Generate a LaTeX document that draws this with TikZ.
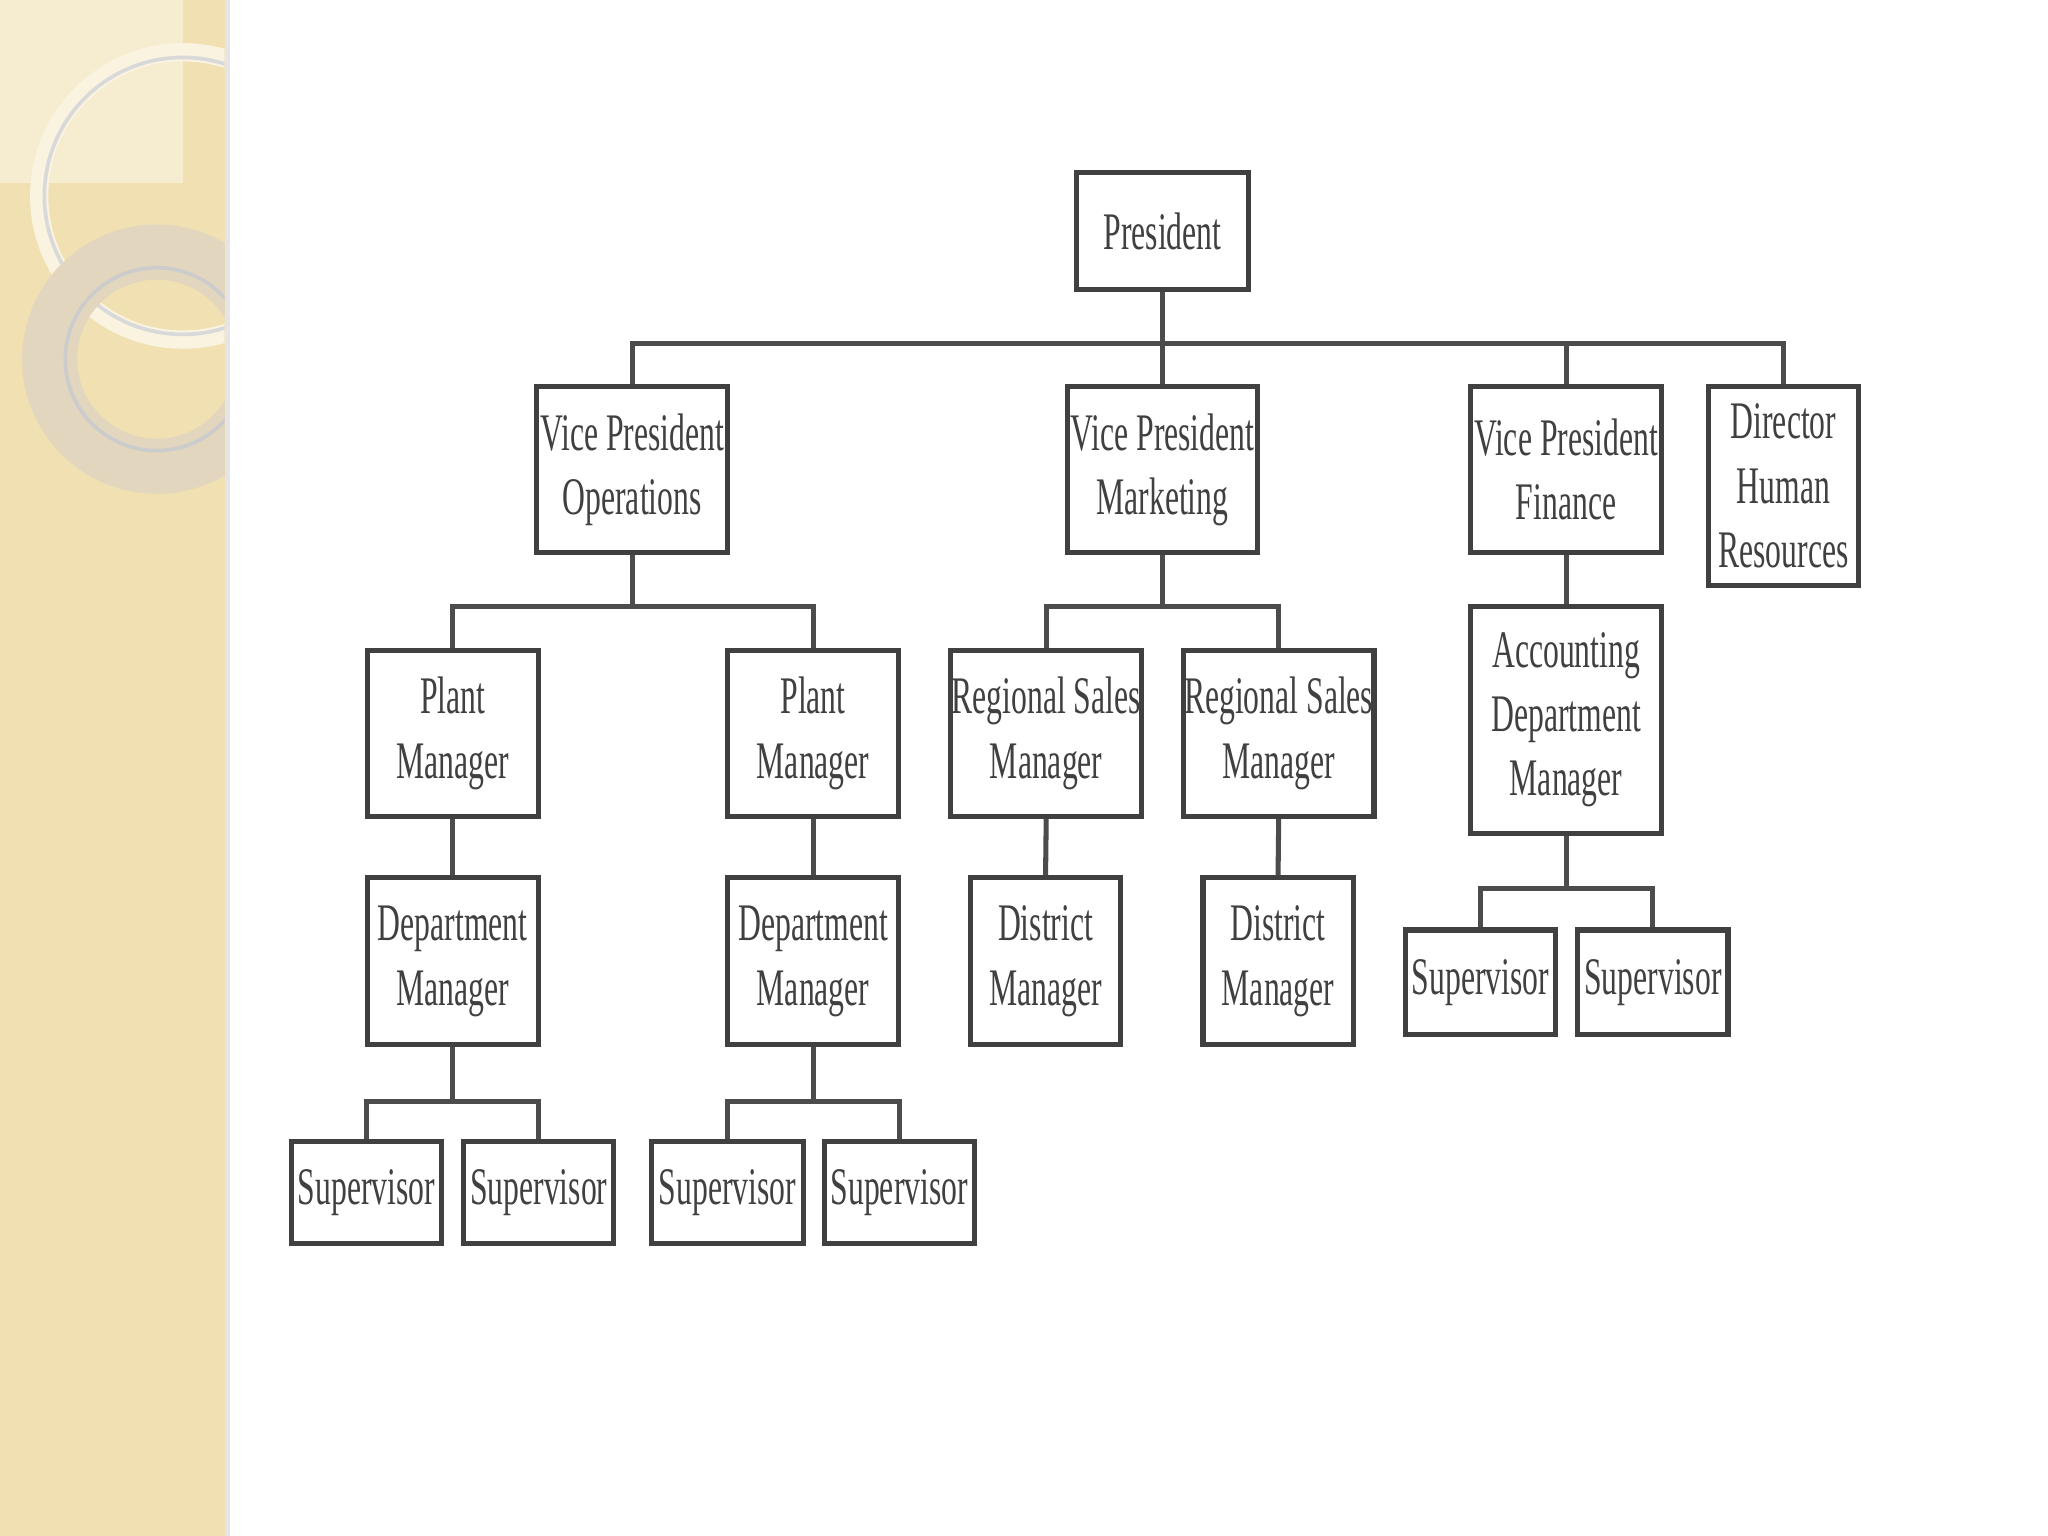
\documentclass[tikz,border=0pt]{standalone}
\usepackage{fontspec}
\newfontfamily\cf[FakeStretch=0.6]{Liberation Serif}
\definecolor{strip}{RGB}{240,224,178}
\definecolor{ring}{RGB}{226,214,190}
\begin{document}
\begin{tikzpicture}[x=1cm,y=1cm,
  box/.style={draw=black!75,line width=1.1pt,fill=white,inner sep=0pt,align=center,
    font=\cf\fontsize{11.5}{14}\selectfont,text=black!75},
  ln/.style={draw=black!70,line width=1.1pt}]
\useasboundingbox (0,0) rectangle (15.68,-11.76);
\fill[white] (0,0) rectangle (15.68,-11.76);
\fill[strip] (0,0) rectangle (1.72,-11.76);
\fill[black!10] (1.72,0) rectangle (1.76,-11.76);
\begin{scope}
\clip (0,0) rectangle (1.72,-11.76);
\fill[white,opacity=0.4] (0,0) rectangle (1.4,-1.4);
\draw[white!60!strip,line width=4pt] (1.4,-1.5) circle (1.1);
\draw[black!15,line width=0.8pt] (1.4,-1.5) circle (1.06);
\draw[ring,line width=12pt] (1.2,-2.75) circle (0.82);
\draw[black!20,line width=0.8pt] (1.2,-2.75) circle (0.7);
\end{scope}
\newcommand\bx[6]{\node[box,minimum width={(#4-#2)*0.01cm},minimum height={(#5-#3)*0.01cm}] (#1) at ({(#2+#4)/200},{-(#3+#5)/200}) {#6};}
\bx{pres}{824}{132}{956}{222}{President}
\bx{vpo}{411}{296}{557}{423}{Vice President\\Operations}
\bx{vpm}{817}{296}{963}{423}{Vice President\\Marketing}
\bx{vpf}{1126}{296}{1272}{423}{Vice President\\Finance}
\bx{dhr}{1308}{296}{1423}{448}{Director\\Human\\Resources}
\bx{pm1}{281}{498}{412}{625}{Plant\\Manager}
\bx{pm2}{557}{498}{688}{625}{Plant\\Manager}
\bx{rs1}{728}{498}{874}{625}{Regional Sales\\Manager}
\bx{rs2}{906}{498}{1052}{625}{Regional Sales\\Manager}
\bx{acc}{1126}{464}{1272}{638}{Accounting\\Department\\Manager}
\bx{dm1}{281}{672}{412}{800}{Department\\Manager}
\bx{dm2}{557}{672}{688}{800}{Department\\Manager}
\bx{di1}{743}{672}{858}{800}{District\\Manager}
\bx{di2}{921}{672}{1036}{800}{District\\Manager}
\bx{fs1}{1076}{712}{1191}{792}{Supervisor}
\bx{fs2}{1208}{712}{1323}{792}{Supervisor}
\bx{s1}{223}{874}{338}{952}{Supervisor}
\bx{s2}{355}{874}{470}{952}{Supervisor}
\bx{s3}{499}{874}{615}{952}{Supervisor}
\bx{s4}{631}{874}{746}{952}{Supervisor}
\coordinate (bA) at (0,-2.63);
\coordinate (bB) at (0,-4.64);
\coordinate (bC) at (0,-8.43);
\coordinate (bD) at (0,-6.80);
\draw[ln] (pres.south) -- (pres.south|-bA);
\draw[ln] (vpo.north) -- (vpo.north|-bA) -- (dhr.north|-bA) -- (dhr.north);
\draw[ln] (vpm.north) -- (vpm.north|-bA);
\draw[ln] (vpf.north) -- (vpf.north|-bA);
\draw[ln] (vpo.south) -- (vpo.south|-bB);
\draw[ln] (pm1.north) -- (pm1.north|-bB) -- (pm2.north|-bB) -- (pm2.north);
\draw[ln] (vpm.south) -- (vpm.south|-bB);
\draw[ln] (rs1.north) -- (rs1.north|-bB) -- (rs2.north|-bB) -- (rs2.north);
\draw[ln] (vpf.south) -- (acc.north);
\draw[ln] (pm1.south) -- (dm1.north);
\draw[ln] (pm2.south) -- (dm2.north);
\draw[ln] (rs1.south) -- (di1.north);
\draw[ln] (rs2.south) -- (di2.north);
\draw[ln] (dm1.south) -- (dm1.south|-bC);
\draw[ln] (s1.north) -- (s1.north|-bC) -- (s2.north|-bC) -- (s2.north);
\draw[ln] (dm2.south) -- (dm2.south|-bC);
\draw[ln] (s3.north) -- (s3.north|-bC) -- (s4.north|-bC) -- (s4.north);
\draw[ln] (acc.south) -- (acc.south|-bD);
\draw[ln] (fs1.north) -- (fs1.north|-bD) -- (fs2.north|-bD) -- (fs2.north);
\end{tikzpicture}
\end{document}
